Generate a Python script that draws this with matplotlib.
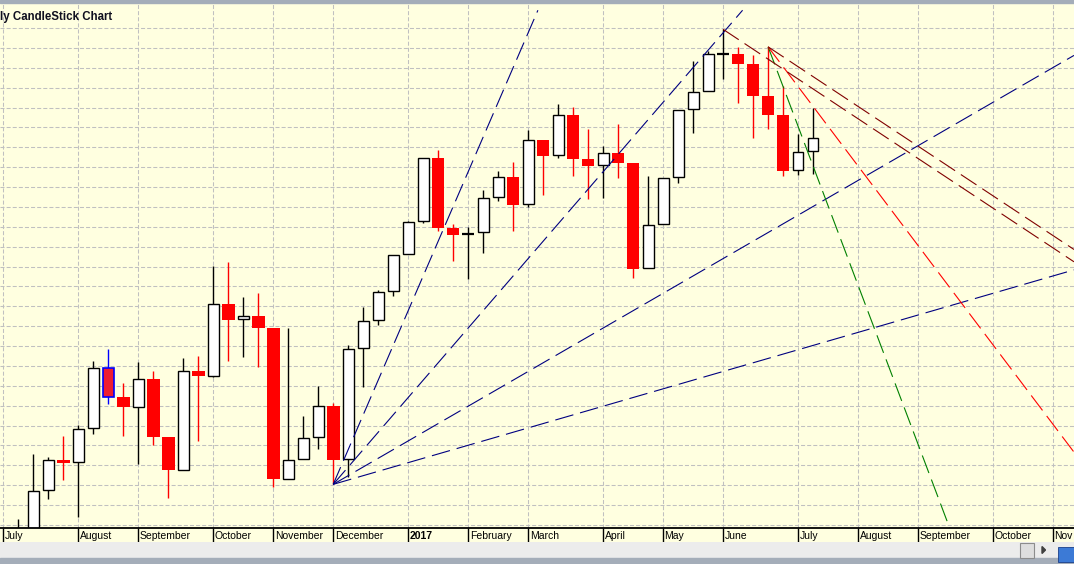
import matplotlib
matplotlib.use("Agg")
import matplotlib.pyplot as plt
import matplotlib.patches as patches
import pandas as pd

# weekly bars, x = week number counted from Friday 2016-07-01
weeks = list(range(1, 55))
opens = [7.74, 8.24, 10.74, 12.26, 12.15, 13.86, 16.91, 15.44, 14.95, 16.34,
         13.42, 11.78, 16.74, 16.51, 20.10, 19.35, 19.50, 18.89, 11.32, 12.30,
         13.41, 15.00, 12.30, 17.89, 19.29, 20.75, 22.62, 24.28, 27.45, 23.94,
         23.65, 23.72, 25.49, 26.51, 25.13, 28.37, 27.60, 29.63, 27.41, 27.10,
         27.72, 27.21, 21.91, 24.13, 26.49, 29.91, 30.82, 32.70, 32.70, 32.19,
         30.58, 29.63, 26.84, 27.82]
highs = [9.30, 12.57, 12.42, 13.47, 14.01, 17.25, 17.84, 16.12, 17.18, 16.74,
         13.42, 17.40, 17.50, 22.03, 22.23, 20.47, 20.67, 18.89, 18.91, 14.48,
         15.99, 15.12, 18.04, 19.98, 20.82, 22.57, 24.29, 27.45, 27.87, 24.14,
         24.01, 25.85, 26.81, 27.26, 28.87, 28.37, 30.18, 30.05, 28.92, 28.07,
         29.17, 27.21, 26.56, 26.44, 29.86, 32.35, 32.86, 33.94, 33.03, 32.65,
         33.06, 31.10, 28.67, 29.99]
lows = [7.23, 7.99, 10.32, 11.26, 9.41, 13.56, 15.07, 13.49, 12.08, 13.02,
        10.37, 11.78, 13.22, 16.46, 17.26, 17.46, 16.96, 10.89, 11.32, 12.30,
        12.83, 11.04, 11.39, 15.92, 19.06, 20.52, 22.62, 24.21, 23.80, 22.29,
        21.36, 22.70, 25.31, 23.80, 25.01, 25.60, 27.48, 26.56, 25.40, 25.47,
        26.47, 21.44, 21.91, 24.13, 26.19, 28.74, 30.82, 31.45, 30.25, 28.49,
        28.94, 26.57, 26.61, 26.64]
closes = [8.64, 10.69, 12.25, 12.13, 13.81, 16.88, 15.45, 14.95, 16.33, 13.44,
          11.78, 16.73, 16.51, 20.10, 19.33, 19.50, 18.92, 11.32, 12.25, 13.36,
          14.97, 12.28, 17.85, 19.26, 20.70, 22.57, 24.23, 27.45, 23.96, 23.60,
          23.65, 25.44, 26.49, 25.11, 28.35, 27.58, 29.63, 27.43, 27.08, 27.70,
          27.23, 21.89, 24.08, 26.44, 29.86, 30.77, 32.70, 32.70, 32.21, 30.60,
          29.64, 26.82, 27.75, 28.45]
selected_week = 7

# fan drawings: anchor bar, slope of the 1x1 line (price per week), ratios
up_fan_week = 22
up_fan_base = 0.874
up_fan_ratios = [2, 1, 0.5, 0.25]
down_fan_week = 51
down_fan_base = 1.0
down_fan_ratios = [2, 1, 0.5]
trend_week = 48
trend_slope = -0.5

# only the end of the title is on screen in the reference
title = "ly CandleStick Chart"

W, H = 1074, 564
BG = "#ffffe0"
drawing_top = 34.9

fig = plt.figure(figsize=(W / 100, H / 100), dpi=100)
fig.patch.set_facecolor("#ececec")
plt.rcParams["lines.scale_dashes"] = False

ax = fig.add_axes([0, 36.5 / H, 1, 524.2 / H])
ax.set_facecolor(BG)
x_min, x_max = -0.22, 71.4
ax.set_xlim(x_min, x_max)
ax.set_ylim(8.868, 35.25)
for s in ax.spines.values():
    s.set_visible(False)
ax.set_xticks([])
ax.set_yticks([])

# month positions = first Friday of each month
fridays = pd.date_range("2016-07-01", periods=72, freq="W-FRI")
month_pos = [i for i in range(len(fridays)) if i == 0 or fridays[i].month != fridays[i - 1].month]

grid_kw = dict(color="#c0c0c0", lw=0.75, dashes=(2.9, 1.5), zorder=0)
for g in range(9, 35):
    ax.axhline(g, **grid_kw)
for m in month_pos:
    ax.axvline(m, **grid_kw)

# candles
for x, o, h, l, c in zip(weeks, opens, highs, lows, closes):
    if x == selected_week:
        ax.vlines(x, l, h, color="#0000ff", lw=1.0, zorder=2)
        ax.add_patch(patches.Rectangle((x - 0.38, min(o, c)), 0.76, abs(c - o),
                                       facecolor="#ee1d2f", edgecolor="#0000ff", lw=1.2, zorder=3))
    elif c > o:
        ax.vlines(x, l, h, color="black", lw=1.0, zorder=2)
        ax.add_patch(patches.Rectangle((x - 0.36, o), 0.72, c - o,
                                       facecolor="white", edgecolor="black", lw=1.0, zorder=3))
    elif c < o:
        ax.vlines(x, l, h, color="#ff0000", lw=1.0, zorder=2)
        ax.add_patch(patches.Rectangle((x - 0.42, c), 0.84, o - c,
                                       facecolor="#ff0000", edgecolor="none", zorder=3))
    else:
        ax.vlines(x, l, h, color="black", lw=1.0, zorder=2)
        ax.hlines(o, x - 0.42, x + 0.42, color="black", lw=1.6, zorder=3)


def fan_line(x0, y0, slope, color):
    x1 = x_max
    y1 = y0 + slope * (x1 - x0)
    if y1 > drawing_top:
        x1 = x0 + (drawing_top - y0) / slope
        y1 = drawing_top
    ax.plot([x0, x1], [y0, y1], color=color, lw=0.8, dashes=(13.5, 5), zorder=4)


a = weeks.index(up_fan_week)
for r in up_fan_ratios:
    fan_line(up_fan_week, lows[a], up_fan_base * r, "#000080")

b = weeks.index(down_fan_week)
for r, col in zip(down_fan_ratios, ["#008000", "#ff0000", "#800000"]):
    fan_line(down_fan_week, highs[b], -down_fan_base * r, col)

t = weeks.index(trend_week)
fan_line(trend_week, highs[t], trend_slope, "#800000")

# month label band
lab = fig.add_axes([0, 22 / H, 1, 14.5 / H])
lab.set_facecolor(BG)
lab.set_xlim(x_min, x_max)
lab.set_ylim(0, 1)
lab.set_xticks([])
lab.set_yticks([])
for k, s in lab.spines.items():
    s.set_visible(k == "top")
lab.spines["top"].set_linewidth(1.3)
lab.vlines(month_pos, 0, 1, color="black", lw=1.0)
for m in month_pos:
    d = fridays[m]
    if d.month == 1:
        lab.text(m + 0.1, 0.24, str(d.year), fontsize=7.5, fontweight="bold",
                 family="Liberation Sans", va="baseline")
    else:
        # last label runs into the right edge, show the short name there
        name = d.strftime("%b") if m + 4 > x_max else d.strftime("%B")
        lab.text(m + 0.1, 0.24, name, fontsize=7.5,
                 family="Liberation Sans", va="baseline")

fig.text(0.5 / W, 1 - 20 / H, title, fontsize=8.3, fontweight="bold",
         family="Liberation Sans", color="#101020", ha="left", va="baseline")

# window chrome
fig.patches.append(patches.Rectangle((0, 1 - 3.3 / H), 1, 3.3 / H, color="#a4adb9",
                                     transform=fig.transFigure))
fig.patches.append(patches.Rectangle((0, 0), 1, 6 / H, color="#a4adb9",
                                     transform=fig.transFigure))
fig.patches.append(patches.Rectangle((1019.5 / W, 6.5 / H), 14.5 / W, 14.5 / H,
                                     facecolor="#dedede", edgecolor="#8c8c8c", lw=0.8,
                                     transform=fig.transFigure))
fig.patches.append(patches.Polygon([(1042 / W, 17.5 / H), (1042 / W, 10.5 / H), (1045.5 / W, 14 / H)],
                                   color="#404040", transform=fig.transFigure))
fig.patches.append(patches.Rectangle((1058 / W, 2 / H), 16 / W, 15 / H,
                                     facecolor="#3c7ad6", edgecolor="#1a3f8a", lw=0.6,
                                     transform=fig.transFigure))

fig.savefig("out.png", dpi=100, facecolor=fig.get_facecolor())
